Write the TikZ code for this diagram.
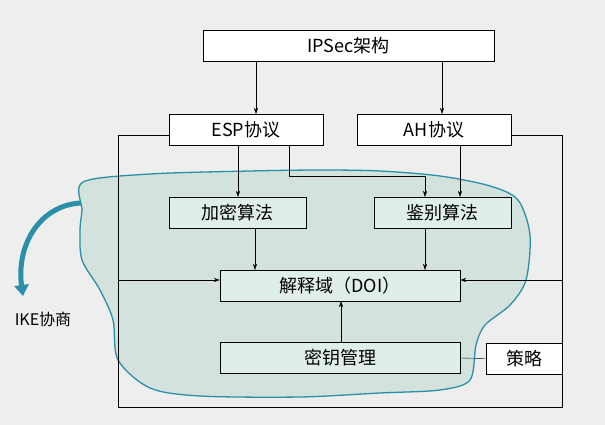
\documentclass[tikz,border=0pt]{standalone}
\usepackage{fontspec}
\setmainfont{Noto Sans CJK SC}
\usetikzlibrary{arrows.meta}
\definecolor{bg}{HTML}{EEEEEE}
\definecolor{blobfill}{HTML}{D3E2DC}
\definecolor{blobline}{HTML}{2A8FA8}
\definecolor{inbox}{HTML}{E0EEE8}
\begin{document}
\begin{tikzpicture}[x=1pt,y=-1pt,
  box/.style={draw=black,fill=white,minimum height=31pt,inner sep=0pt,font=\fontsize{18}{20}\selectfont},
  ibox/.style={box,fill=inbox},
  ar/.style={-{Stealth[length=6pt,width=4pt]},black},
  ln/.style={black}]
\fill[bg] (0,0) rectangle (605,425);
\useasboundingbox (0,0) rectangle (605,425);
\fill[blobfill,draw=blobline,line width=1.3pt]
 plot[smooth cycle,tension=0.5] coordinates{(83,182) (150,174) (250,171) (320,170) (380,171) (440,176) (490,186) (518,200) (530,235) (526,280) (510,305) (485,325) (476,345) (470,380) (440,390) (380,393) (300,397) (200,396) (150,388) (118,360) (113,320) (100,290) (82,260) (80,230) (82,210)};
\node[box,minimum width=291pt] (ipsec) at (348.5,46) {IPSec架构};
\node[box,minimum width=154pt] (esp) at (246,129.5) {ESP协议};
\node[box,minimum width=154pt] (ah) at (434,129.5) {AH协议};
\node[ibox,minimum width=137pt] (enc) at (237.5,212.5) {加密算法};
\node[ibox,minimum width=137pt] (auth) at (442.5,212.5) {鉴别算法};
\node[ibox,minimum width=240pt] (doi) at (340,285.5) {解释域（DOI）};
\node[ibox,minimum width=240pt] (key) at (340,358) {密钥管理};
\node[box,minimum width=76pt] (pol) at (524,358.5) {策略};
\node[font=\fontsize{16}{18}\selectfont] (ike) at (43,319) {IKE协商};
\coordinate (L) at (118,407);
\coordinate (R) at (562,407);
\draw[ar] (256,61) -- (256,114);
\draw[ar] (442,61) -- (442,114);
\draw[ar] (238,145) -- (238,197);
\draw[ar] (289,145) -- (289,176) -- (425,176) -- (425,197);
\draw[ar] (460,145) -- (460,197);
\draw[ar] (255,228) -- (255,270);
\draw[ar] (425,228) -- (425,270);
\draw[ar] (341,342) -- (341,301);
\draw[ln] (esp.west |- 0,135) -- (118,135) -- (L) -- (R) -- (562,135) -- (ah.east |- 0,135);
\draw[ar] (118,280) -- (doi.west |- 0,280);
\draw[ar] (562,280) -- (doi.east |- 0,280);
\draw[ln] (key.east) -- (pol.west);
\draw[blobline,line width=5pt,-{Triangle[length=11pt,width=14pt]}] (81,203) .. controls (40,205) and (16,245) .. (23,296);
\end{tikzpicture}
\end{document}
